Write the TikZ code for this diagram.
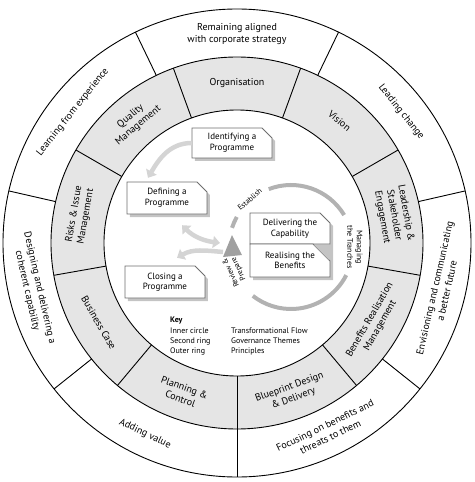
\documentclass[tikz,border=0pt]{standalone}
\usepackage{fontspec}
\setmainfont{PT Sans}
\usetikzlibrary{arrows.meta,calc}
\definecolor{ringgray}{RGB}{229,229,229}
\definecolor{boxline}{RGB}{110,110,110}
\definecolor{shadowgray}{RGB}{196,196,196}
\definecolor{flowgray}{RGB}{212,212,212}
\definecolor{arcgray}{RGB}{178,178,178}
\definecolor{trigray}{RGB}{160,160,160}
\begin{document}
\begin{tikzpicture}[x=1pt,y=1pt,
  ring/.style={draw=black, line width=0.9pt},
  theme/.style={font=\fontsize{10}{12}\selectfont, align=center, inner sep=0pt},
  principle/.style={font=\fontsize{10}{12.5}\selectfont, align=center, inner sep=0pt},
  boxtext/.style={font=\fontsize{9}{10.5}\selectfont, align=center, inner sep=0pt},
  boxshape/.style={fill=white, draw=boxline, line width=0.8pt},
  boxshadow/.style={fill=shadowgray},
  chbox/.style n args={4}{insert path={({#1},{#4}) -- ({#3-10},{#4}) -- ({#3},{#4-10}) -- ({#3},{#2}) -- ({#1},{#2}) -- cycle}},
  cyclabel/.style={font=\fontsize{7.5}{8.5}\selectfont, align=center, inner sep=0pt},
  keytext/.style={font=\fontsize{8}{9.5}\selectfont, inner sep=0pt, anchor=west},
  arcline/.style={draw=arcgray, line width=4pt},
  flow/.style={draw=flowgray, line width=4.5pt, -{Triangle[length=7pt,width=12pt]}},
  flowboth/.style={draw=flowgray, line width=4.5pt, {Triangle[length=7pt,width=12pt]}-{Triangle[length=7pt,width=12pt]}}]
\useasboundingbox (-237,-239) rectangle (237,243);

% rings
\fill[ringgray, even odd rule] (0,0) circle (186pt) (0,0) circle (133pt);
\draw[ring] (0,0) circle (234pt) (0,0) circle (186pt) (0,0) circle (133pt);
\foreach \a in {110,70,30,-10,-50,-90,-130,-170,150}
  \draw[ring] (\a:133pt) -- (\a:186pt);
\foreach \k in {0,...,6}
  \draw[ring] ({64.2857+\k*51.4286}:186pt) -- ({64.2857+\k*51.4286}:234pt);

% governance themes
\node[theme] (org) at (90:159.5pt) {Organisation};
\node[theme, rotate=-40] (vis) at (50:159.5pt) {Vision};
\node[theme, rotate=-80] (lead) at (10:159.5pt) {Leadership \&\\Stakeholder\\Engagement};
\node[theme, rotate=60] (brm) at (-30:159.5pt) {Benefits Realisation\\Management};
\node[theme, rotate=20] (bdd) at (-70:159.5pt) {Blueprint Design\\\& Delivery};
\node[theme, rotate=-20] (pc) at (-110:159.5pt) {Planning \&\\Control};
\node[theme, rotate=-60] (bc) at (-150:159.5pt) {Business Case};
\node[theme, rotate=80] (ri) at (170:159.5pt) {Risks \& Issue\\Management};
\node[theme, rotate=40] (qm) at (130:159.5pt) {Quality\\Management};

% principles
\node[principle] (p1) at (90:209pt) {Remaining aligned\\with corporate strategy};
\node[principle, rotate=-51.43] (p2) at (38.57:210pt) {Leading change};
\node[principle, rotate=77.14] (p3) at (-12.86:209pt) {Envisioning and communicating\\a better future};
\node[principle, rotate=25.71] (p4) at (-64.29:209pt) {Focusing on benefits and\\threats to them};
\node[principle, rotate=-25.71] (p5) at (-115.71:212pt) {Adding value};
\node[principle, rotate=-77.14] (p6) at (-167.14:209pt) {Designing and delivering a\\coherent capability};
\node[principle, rotate=51.43] (p7) at (141.43:210pt) {Learning from experience};

% transformational flow boxes
\fill[boxshadow, xshift=3pt, yshift=-3pt, chbox={-45}{85}{35}{115}];
\filldraw[boxshape, chbox={-45}{85}{35}{115}];
\node[boxtext, minimum width=80pt, minimum height=30pt] (ident) at (-5,100) {Identifying a\\Programme};

\fill[boxshadow, xshift=3pt, yshift=-3pt, chbox={-110}{29}{-30}{61}];
\filldraw[boxshape, chbox={-110}{29}{-30}{61}];
\node[boxtext, minimum width=80pt, minimum height=32pt] (defin) at (-70,45) {Defining a\\Programme};

\fill[boxshadow, xshift=3pt, yshift=-3pt, chbox={-112}{-55}{-32}{-23}];
\filldraw[boxshape, chbox={-112}{-55}{-32}{-23}];
\node[boxtext, minimum width=80pt, minimum height=32pt] (closing) at (-72,-39) {Closing a\\Programme};

% stacked boxes
\fill[boxshadow, xshift=3pt, yshift=-3pt, chbox={13}{-34}{93}{30}];
\filldraw[boxshape, chbox={13}{-1}{93}{30}];
\filldraw[boxshape] (13,-1) -- (76,-1) -- (93,-18) -- (93,-34) -- (13,-34) -- cycle;
\fill[shadowgray] (76.6,-1.6) -- (92.4,-1.6) -- (92.4,-17.4) -- cycle;
\node[boxtext, minimum width=80pt, minimum height=31pt] (deliv) at (53,14.5) {Delivering the\\Capability};
\node[boxtext, minimum width=80pt, minimum height=33pt] (real) at (53,-17.5) {Realising the\\Benefits};

% managing the tranches cycle
\coordinate (cyc) at (54,-4);
\draw[arcline] ([shift={(162:62pt)}]cyc) arc[start angle=162, end angle=151, radius=62pt];
\draw[arcline] ([shift={(111:62pt)}]cyc) arc[start angle=111, end angle=31, radius=62pt];
\draw[arcline] ([shift={(-27:62pt)}]cyc) arc[start angle=-27, end angle=-128, radius=62pt];
\node[cyclabel, rotate=40] (est) at ([shift={(131:63pt)}]cyc) {Establish};
\node[cyclabel, rotate=-90, font=\fontsize{8}{9.5}\selectfont] (mtt) at ([shift={(0:64pt)}]cyc) {Managing\\the Tranches};
\node[cyclabel, rotate=115] (rp) at ([shift={(-157:61pt)}]cyc) {Review \&\\Prepare};
\fill[trigray] (-5,8) -- (-14,-14) -- (5,-12) -- cycle;
\coordinate (tri) at (-5,-3);

% flow arrows
\draw[flow] (ident.west) to[out=180,in=60] ([xshift=-19pt,yshift=4pt]defin.north);
\draw[flowboth] ([xshift=15pt,yshift=-11pt]defin.south) to[out=-45,in=172] ([xshift=-12pt,yshift=3pt]tri);
\draw[flow] ([xshift=-9pt,yshift=-6pt]tri) to[out=175,in=30] ([xshift=12pt,yshift=8pt]closing.north);

% key
\node[keytext, font=\fontsize{8}{9.5}\selectfont\bfseries] (key) at (-67,-78) {Key};
\node[keytext] (k1) at (-67,-88) {Inner circle};
\node[keytext] (k2) at (-67,-98) {Second ring};
\node[keytext] (k3) at (-67,-108) {Outer ring};
\node[keytext] (v1) at (-6,-88) {Transformational Flow};
\node[keytext] (v2) at (-6,-98) {Governance Themes};
\node[keytext] (v3) at (-6,-108) {Principles};
\end{tikzpicture}
\end{document}
